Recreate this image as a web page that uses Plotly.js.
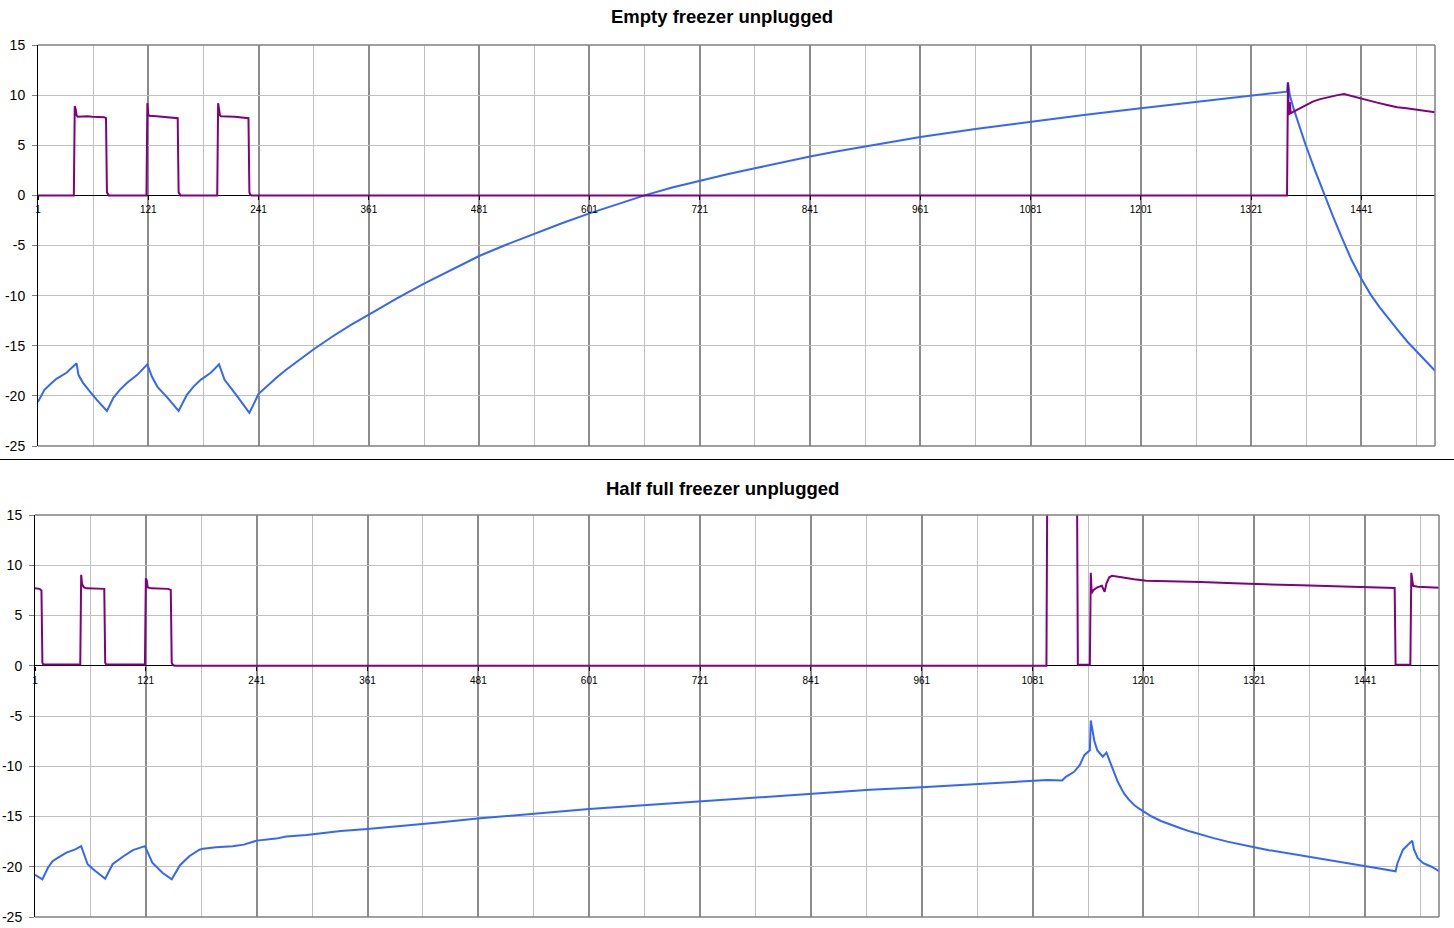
<!DOCTYPE html>
<html>
<head>
<meta charset="utf-8">
<script src="https://cdn.plot.ly/plotly-3.0.1.min.js"></script>
<style>
html,body{margin:0;padding:0;background:#fff;}
#chart{width:1454px;height:928px;}
</style>
</head>
<body>
<div id="chart"></div>
<script>
// ---------- DATA ----------
const chartTitles = ["Empty freezer unplugged", "Half full freezer unplugged"];
const xTickStart = 1, xTickStep = 120;   // labels 1, 121, 241 ... 1441
const xRange = [1, 1521];
const yRange = [-25, 15];
const yTickVals = [-25, -20, -15, -10, -5, 0, 5, 10, 15];
const yTickText = ["-25", "-20", "-15", "-10", "-5", "0", "5", "10", "15"];

// Empty freezer – temperature (blue)
const emptyTempX = [1, 8, 15, 21, 32, 43, 45, 50, 56, 65, 76, 83, 90, 98, 109, 120, 125, 131, 142, 154, 163, 170, 178, 189, 198, 204, 215, 231, 241, 251, 261, 271, 286, 301, 321, 341, 361, 391, 421, 451, 481, 511, 541, 571, 601, 631, 661, 691, 721, 751, 781, 811, 841, 871, 901, 931, 961, 1021, 1081, 1141, 1201, 1261, 1321, 1360, 1361, 1363, 1367, 1372, 1380, 1390, 1400, 1410, 1420, 1430, 1441, 1451, 1461, 1471, 1481, 1491, 1501, 1511, 1521];
const emptyTempY = [-20.6, -19.4, -18.8, -18.3, -17.7, -16.75, -17.9, -18.7, -19.4, -20.4, -21.5, -20.2, -19.4, -18.7, -17.9, -16.85, -18.1, -19.1, -20.2, -21.5, -19.9, -19.1, -18.4, -17.7, -16.85, -18.4, -19.7, -21.7, -19.8, -18.95, -18.15, -17.4, -16.35, -15.35, -14.1, -12.95, -11.9, -10.3, -8.8, -7.4, -6.05, -4.9, -3.8, -2.78, -1.8, -0.88, 0.0, 0.78, 1.45, 2.1, 2.7, 3.3, 3.88, 4.4, 4.9, 5.38, 5.83, 6.62, 7.35, 8.05, 8.7, 9.35, 10.0, 10.35, 11.3, 10.0, 8.7, 7.3, 5.1, 2.6, 0.2, -2.1, -4.3, -6.4, -8.35, -9.9, -11.2, -12.4, -13.5, -14.6, -15.6, -16.6, -17.5];

// Empty freezer – compressor / power (purple)
const emptyPowerX = [1, 40, 41, 42, 43, 44, 55, 60, 73, 75, 76, 77, 78, 119, 120, 121, 122, 130, 150, 153, 154, 155, 156, 196, 197, 198, 199, 200, 215, 230, 231, 232, 233, 1360, 1361, 1362, 1363, 1364, 1366, 1369, 1375, 1380, 1388, 1396, 1407, 1415, 1422, 1430, 1440, 1450, 1458, 1470, 1480, 1490, 1502, 1512, 1521];
const emptyPowerY = [0, 0, 8.9, 8.6, 8.0, 7.85, 7.9, 7.85, 7.8, 7.7, 0.3, 0.1, 0, 0, 9.2, 8.1, 7.95, 7.9, 7.75, 7.7, 0.3, 0.05, 0, 0, 9.2, 8.6, 8.0, 7.9, 7.85, 7.7, 0.3, 0.05, 0, 0, 11.2, 8.0, 9.3, 8.2, 8.3, 8.4, 8.7, 9.0, 9.35, 9.6, 9.85, 10.0, 10.1, 9.9, 9.65, 9.45, 9.25, 9.0, 8.8, 8.7, 8.55, 8.4, 8.3];

// Half full freezer – temperature (blue)
const halfTempX = [1, 9, 15, 20, 26, 35, 44, 51, 58, 64, 77, 85, 96, 107, 120, 128, 139, 149, 158, 168, 179, 183, 197, 215, 227, 241, 262, 273, 295, 332, 361, 407, 438, 480, 531, 601, 656, 721, 780, 841, 905, 961, 1029, 1081, 1097, 1113, 1117, 1126, 1132, 1137, 1143, 1144, 1146, 1148, 1151, 1157, 1161, 1164, 1168, 1173, 1177, 1180, 1185, 1191, 1196, 1201, 1210, 1220, 1231, 1242, 1252, 1263, 1277, 1292, 1306, 1321, 1337, 1354, 1372, 1390, 1408, 1426, 1441, 1458, 1474, 1476, 1482, 1487, 1492, 1494, 1498, 1504, 1513, 1521];
const halfTempY = [-20.8, -21.25, -20.1, -19.45, -19.1, -18.6, -18.3, -17.95, -19.75, -20.25, -21.2, -19.75, -19.0, -18.35, -17.95, -19.6, -20.6, -21.25, -19.85, -18.95, -18.3, -18.2, -18.05, -17.95, -17.8, -17.4, -17.2, -17.0, -16.85, -16.45, -16.25, -15.9, -15.6, -15.2, -14.8, -14.25, -13.9, -13.5, -13.15, -12.7, -12.35, -12.1, -11.75, -11.42, -11.36, -11.42, -11.05, -10.55, -9.9, -8.9, -8.4, -5.45, -6.4, -7.55, -8.4, -9.05, -8.65, -9.4, -10.35, -11.5, -12.2, -12.7, -13.3, -13.85, -14.2, -14.5, -15.0, -15.45, -15.85, -16.2, -16.5, -16.8, -17.15, -17.5, -17.8, -18.05, -18.35, -18.6, -18.9, -19.15, -19.45, -19.7, -19.95, -20.2, -20.45, -19.65, -18.3, -17.8, -17.4, -18.3, -19.15, -19.65, -20.0, -20.45];

// Half full freezer – compressor / power (purple)
const halfPowerX = [1, 6, 8, 9, 10, 50, 51, 52, 54, 57, 76, 77, 78, 120, 121, 122, 123, 127, 145, 148, 149, 150, 152, 1096, 1097, 1129, 1130, 1143, 1144, 1145, 1147, 1151, 1156, 1159, 1161, 1164, 1167, 1176, 1191, 1204, 1234, 1263, 1299, 1335, 1372, 1408, 1444, 1473, 1474, 1490, 1491, 1493, 1498, 1521];
const halfPowerY = [7.7, 7.65, 7.5, 0.3, 0.13, 0.13, 9.05, 8.1, 7.8, 7.7, 7.65, 0.3, 0.13, 0.13, 8.7, 8.5, 7.8, 7.7, 7.65, 7.55, 0.3, 0.1, 0, 0, 20, 20, 0.1, 0.1, 9.25, 7.2, 7.55, 7.8, 7.95, 7.35, 8.2, 8.8, 8.95, 8.8, 8.6, 8.45, 8.4, 8.33, 8.2, 8.13, 8.0, 7.9, 7.8, 7.73, 0.1, 0.1, 9.25, 7.95, 7.87, 7.77];

// ---------- STYLE ----------
const FONT = "Liberation Sans, Arial, sans-serif";
const BLUE = "#3366ff";
const PURPLE = "#800080";
const W = 1454, H = 928;

// plot areas in pixels (left, right, top, bottom)
const areas = [
  {l: 38, r: 1435, t: 45, b: 446},
  {l: 35, r: 1439, t: 515, b: 917}
];

function dom(a) {
  return {
    x: [a.l / W, a.r / W],
    y: [1 - a.b / H, 1 - a.t / H]
  };
}

function xAxis(a) {
  const d = dom(a);
  const zeroFrac = (0 - yRange[0]) / (yRange[1] - yRange[0]);
  return {
    domain: d.x,
    anchor: 'free',
    position: d.y[0] + zeroFrac * (d.y[1] - d.y[0]),
    range: xRange,
    tickmode: 'linear', tick0: xTickStart, dtick: xTickStep,
    showgrid: true, gridcolor: '#8c8c8c', gridwidth: 2,
    minor: {tick0: xTickStart, dtick: xTickStep / 2, showgrid: true, gridcolor: '#c0c0c0', gridwidth: 1, ticks: ''},
    showline: false, zeroline: false,
    ticks: 'outside', ticklen: 4, tickcolor: '#000', tickwidth: 1,
    ticklabelstandoff: 1,
    tickfont: {family: FONT, size: 10, color: '#000'},
    fixedrange: true
  };
}

function yAxis(a, xname) {
  const d = dom(a);
  return {
    domain: d.y,
    anchor: xname,
    range: yRange,
    tickmode: 'array', tickvals: yTickVals, ticktext: yTickText,
    showgrid: true, gridcolor: '#c0c0c0', gridwidth: 1,
    zeroline: true, zerolinecolor: '#000', zerolinewidth: 1,
    showline: true, linecolor: '#000', linewidth: 1,
    ticks: 'outside', ticklen: 5, tickcolor: '#808080', tickwidth: 1,
    ticklabelstandoff: 4,
    tickfont: {family: FONT, size: 14, color: '#000'},
    fixedrange: true
  };
}

const traces = [
  {x: emptyTempX, y: emptyTempY, xaxis: 'x', yaxis: 'y', type: 'scatter', mode: 'lines', line: {color: BLUE, width: 2}, hoverinfo: 'skip'},
  {x: emptyPowerX, y: emptyPowerY, xaxis: 'x', yaxis: 'y', type: 'scatter', mode: 'lines', line: {color: PURPLE, width: 2}, hoverinfo: 'skip'},
  {x: halfTempX, y: halfTempY, xaxis: 'x2', yaxis: 'y2', type: 'scatter', mode: 'lines', line: {color: BLUE, width: 2}, hoverinfo: 'skip'},
  {x: halfPowerX, y: halfPowerY, xaxis: 'x2', yaxis: 'y2', type: 'scatter', mode: 'lines', line: {color: PURPLE, width: 2}, hoverinfo: 'skip'}
];

function borders(xr, yr) {
  const s = {color: '#808080', width: 1.5};
  return [
    {type: 'line', xref: xr + ' domain', yref: yr + ' domain', x0: 0, x1: 1, y0: 1, y1: 1, line: s},
    {type: 'line', xref: xr + ' domain', yref: yr + ' domain', x0: 1, x1: 1, y0: 0, y1: 1, line: s},
    {type: 'line', xref: xr + ' domain', yref: yr + ' domain', x0: 0, x1: 1, y0: 0, y1: 0, line: s}
  ];
}

const layout = {
  width: W, height: H,
  margin: {l: 0, r: 0, t: 0, b: 0, pad: 0},
  paper_bgcolor: '#fff', plot_bgcolor: '#fff',
  showlegend: false,
  font: {family: FONT, color: '#000'},
  xaxis: xAxis(areas[0]),
  yaxis: yAxis(areas[0], 'x'),
  xaxis2: xAxis(areas[1]),
  yaxis2: yAxis(areas[1], 'x2'),
  shapes: [
    ...borders('x', 'y'),
    ...borders('x2', 'y2'),
    {type: 'line', xref: 'paper', yref: 'paper', x0: 0, x1: 1, y0: 1 - 459.5 / H, y1: 1 - 459.5 / H, line: {color: '#000', width: 1}}
  ],
  annotations: [
    {text: '<b>' + chartTitles[0] + '</b>', xref: 'paper', yref: 'paper', x: 722 / W, y: 1 - 17 / H, xanchor: 'center', yanchor: 'middle', showarrow: false, font: {family: FONT, size: 18.5, color: '#000'}},
    {text: '<b>' + chartTitles[1] + '</b>', xref: 'paper', yref: 'paper', x: 722 / W, y: 1 - 488 / H, xanchor: 'center', yanchor: 'middle', showarrow: false, font: {family: FONT, size: 18.5, color: '#000'}}
  ]
};

Plotly.newPlot('chart', traces, layout, {displayModeBar: false, staticPlot: true});
</script>
</body>
</html>
